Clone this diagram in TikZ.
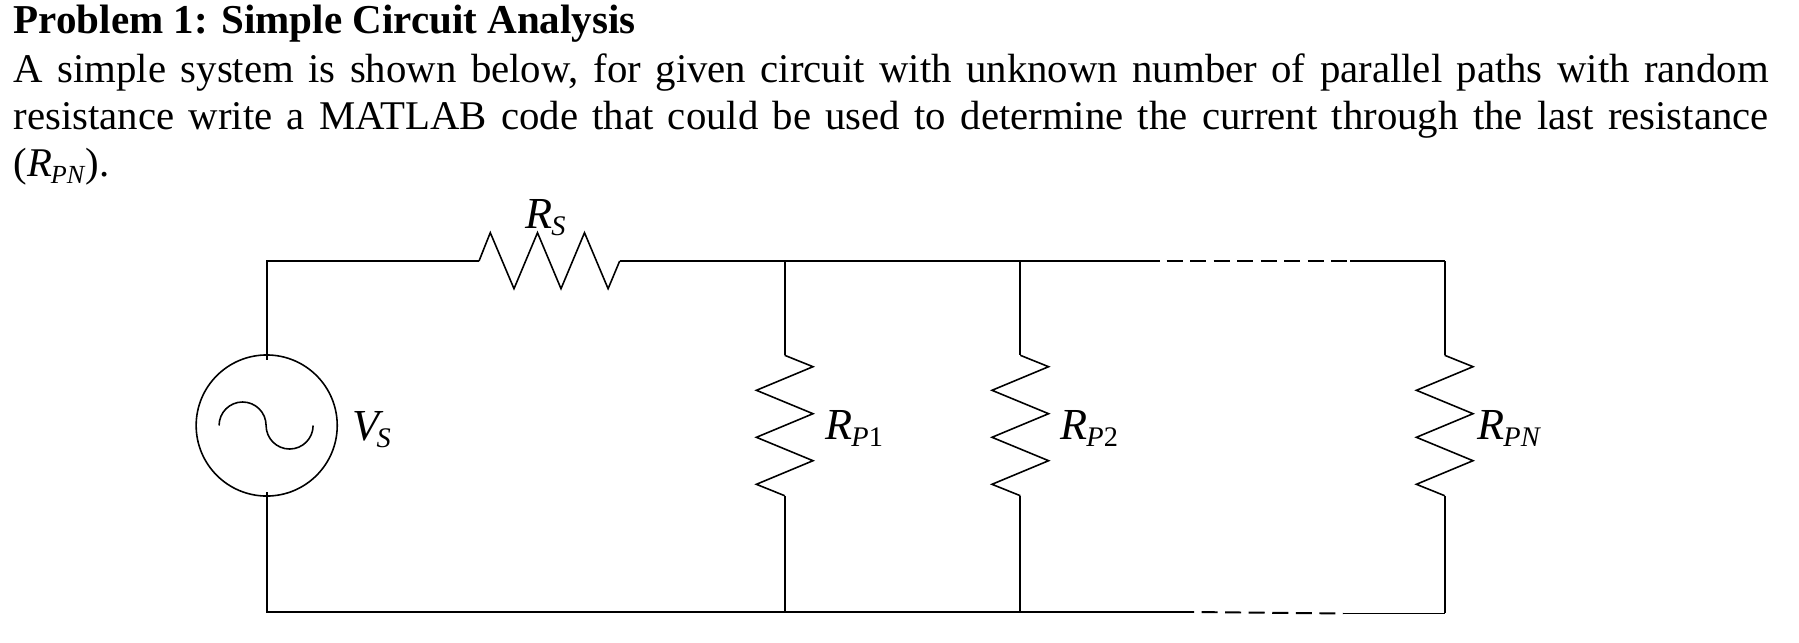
\documentclass[tikz,border=0pt]{standalone}
\usepackage{fontspec}
\setmainfont{Liberation Serif}
\usetikzlibrary{positioning,calc}

\newcommand{\sublabel}[2]{\textit{#1}\kern-0.03em\raisebox{-0.38ex}{\fontsize{0.64em}{1em}\selectfont #2}}

\begin{document}
\begin{tikzpicture}[
    x=0.01cm, y=-0.01cm,
    wire/.style={line width=0.55pt, line join=miter},
    zigzag/.style={line width=0.45pt, line join=miter},
    dashwire/.style={wire, dash pattern=on 0.16cm off 0.075cm},
    source/.style={circle, draw, line width=0.45pt, minimum size=1.41cm, inner sep=0pt},
    complabel/.style={anchor=base west, inner sep=0pt, font=\fontsize{12.6pt}{14pt}\selectfont}
]
\useasboundingbox (0,0) rectangle (1799,642);

% Heading and text
\node[anchor=base west, inner sep=0pt, font=\fontsize{11.67pt}{14pt}\selectfont\bfseries] (title) at (13,33) {Problem 1: Simple Circuit Analysis};
\node[anchor=base west, inner sep=0pt, text width=17.54cm, align=justify, font=\fontsize{11.6pt}{13.4pt}\selectfont] (text) at (13,82)
    {A simple system is shown below, for given circuit with unknown number of parallel paths with random\linebreak
     resistance write a MATLAB code that could be used to determine the current through the last resistance\linebreak
     (\sublabel{R}{\textit{PN}}).};

% Source
\node[source] (vs) at (266.7,425.5) {};
\coordinate (vstop) at (266.7,359.5);
\coordinate (vsbot) at (266.7,492);
\draw[zigzag] (vs.west) ++(23.7,0) arc[start angle=180, end angle=0, radius=0.235cm]
    arc[start angle=180, end angle=360, radius=0.235cm];
\node[complabel] (vslabel) at (352,440) {\sublabel{V\kern-0.04em}{\textit{S}}};

% Corners and rails
\coordinate (tl) at (266.7,261);
\coordinate (bl) at (266.7,612);
\coordinate (tr) at (1444.7,261);
\coordinate (br) at (1444.7,613.5);
\coordinate (rsin) at (479,261);
\coordinate (rsout) at (619.7,261);
\coordinate (tdash1) at (1159,261);
\coordinate (tdash2) at (1350,261);
\coordinate (bdash1) at (1194,612);
\coordinate (bdash2) at (1343,613.5);

% Series resistor
\draw[zigzag] (rsin) -- ++(11.3,-28.3) -- ++(23.7,56) -- ++(23.5,-56) -- ++(23.5,56) -- ++(23.5,-56) -- ++(23.6,56) -- (rsout);
\node[complabel] (rslabel) at (525,228) {\sublabel{R}{\textit{S}}};

% Parallel resistors
\foreach \name/\x/\lx/\sub in {rp1/784.7/825/\textit{P}1, rp2/1020.3/1060/\textit{P}2, rpn/1444.7/1477/\textit{PN}} {
    \coordinate (\name top) at (\x,261);
    \coordinate (\name in) at (\x,355.3);
    \coordinate (\name out) at (\x,495.7);
    \coordinate (\name bot) at (\x,612.5);
    \draw[zigzag] (\name in) -- ++(28.3,11.4) -- ++(-56.6,23.6) -- ++(56.6,23.4) -- ++(-56.6,23.6) -- ++(56.6,23.4) -- ++(-56.6,23.6) -- (\name out);
    \draw[wire] (\name top) -- (\name in);
    \draw[wire] (\name out) -- (\name bot);
    \node[complabel] (\name label) at (\lx,439) {\sublabel{R}{\sub}};
}

% Wires
\draw[wire] (vstop) -- (tl) -- (rsin);
\draw[wire] (rsout) -- (tdash1);
\draw[dashwire, dash phase=-0.077cm] (tdash1) -- (tdash2);
\draw[wire] (tdash2) -- (tr);
\draw[wire] (vsbot) -- (bl) -- (bdash1);
\draw[dashwire, dash phase=-0.077cm] (bdash1) -- (bdash2);
\draw[wire] (bdash2) -- (br);

\end{tikzpicture}
\end{document}
